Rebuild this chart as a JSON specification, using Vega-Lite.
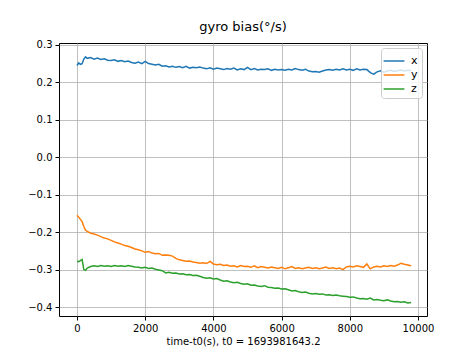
{
  "$schema": "https://vega.github.io/schema/vega-lite/v6.json",
  "autosize": {"type": "none"},
  "width": 368,
  "height": 273,
  "padding": {"left": 59, "top": 43, "right": 47, "bottom": 39},
  "background": "white",
  "config": {
    "font": "DejaVu Sans",
    "view": {"stroke": "#000", "strokeWidth": 1},
    "axis": {
      "domain": false,
      "grid": true,
      "gridColor": "#b0b0b0",
      "gridWidth": 0.8,
      "tickColor": "#000",
      "tickSize": 4,
      "labelColor": "#000",
      "labelFontSize": 10,
      "labelFont": "DejaVu Sans",
      "titleFont": "DejaVu Sans",
      "titleFontWeight": "normal",
      "titleFontSize": 10,
      "titleColor": "#000"
    }
  },
  "title": {"text": "gyro bias(°/s)", "fontSize": 13, "fontWeight": "normal", "font": "DejaVu Sans", "color": "#000", "offset": 6},
  "data": {"values": [
    {"t":0,"x":0.245,"y":-0.155,"z":-0.278},
    {"t":50,"x":0.252,"y":-0.160,"z":-0.279},
    {"t":100,"x":0.248,"y":-0.166,"z":-0.276},
    {"t":150,"x":0.250,"y":-0.172,"z":-0.273},
    {"t":200,"x":0.262,"y":-0.185,"z":-0.300},
    {"t":250,"x":0.268,"y":-0.195,"z":-0.302},
    {"t":300,"x":0.264,"y":-0.198,"z":-0.296},
    {"t":400,"x":0.266,"y":-0.203,"z":-0.292},
    {"t":500,"x":0.262,"y":-0.205,"z":-0.290},
    {"t":600,"x":0.265,"y":-0.208,"z":-0.292},
    {"t":700,"x":0.261,"y":-0.212,"z":-0.289},
    {"t":800,"x":0.263,"y":-0.216,"z":-0.291},
    {"t":900,"x":0.259,"y":-0.218,"z":-0.290},
    {"t":1000,"x":0.258,"y":-0.222,"z":-0.292},
    {"t":1100,"x":0.260,"y":-0.226,"z":-0.289},
    {"t":1200,"x":0.256,"y":-0.229,"z":-0.291},
    {"t":1300,"x":0.258,"y":-0.232,"z":-0.290},
    {"t":1400,"x":0.255,"y":-0.236,"z":-0.292},
    {"t":1500,"x":0.257,"y":-0.238,"z":-0.289},
    {"t":1600,"x":0.253,"y":-0.241,"z":-0.291},
    {"t":1700,"x":0.251,"y":-0.245,"z":-0.293},
    {"t":1800,"x":0.254,"y":-0.247,"z":-0.294},
    {"t":1900,"x":0.250,"y":-0.250,"z":-0.296},
    {"t":2000,"x":0.256,"y":-0.254,"z":-0.294},
    {"t":2100,"x":0.250,"y":-0.252,"z":-0.297},
    {"t":2200,"x":0.248,"y":-0.256,"z":-0.296},
    {"t":2300,"x":0.246,"y":-0.258,"z":-0.299},
    {"t":2400,"x":0.248,"y":-0.257,"z":-0.301},
    {"t":2500,"x":0.243,"y":-0.262,"z":-0.303},
    {"t":2600,"x":0.244,"y":-0.261,"z":-0.309},
    {"t":2700,"x":0.241,"y":-0.262,"z":-0.307},
    {"t":2800,"x":0.243,"y":-0.264,"z":-0.310},
    {"t":2900,"x":0.240,"y":-0.270,"z":-0.309},
    {"t":3000,"x":0.242,"y":-0.274,"z":-0.312},
    {"t":3100,"x":0.239,"y":-0.276,"z":-0.311},
    {"t":3200,"x":0.243,"y":-0.278,"z":-0.314},
    {"t":3300,"x":0.238,"y":-0.277,"z":-0.313},
    {"t":3400,"x":0.240,"y":-0.280,"z":-0.316},
    {"t":3500,"x":0.239,"y":-0.281,"z":-0.315},
    {"t":3600,"x":0.241,"y":-0.283,"z":-0.318},
    {"t":3700,"x":0.238,"y":-0.282,"z":-0.321},
    {"t":3800,"x":0.236,"y":-0.284,"z":-0.323},
    {"t":3900,"x":0.239,"y":-0.278,"z":-0.322},
    {"t":4000,"x":0.235,"y":-0.285,"z":-0.325},
    {"t":4100,"x":0.238,"y":-0.287,"z":-0.324},
    {"t":4200,"x":0.236,"y":-0.286,"z":-0.328},
    {"t":4300,"x":0.234,"y":-0.289,"z":-0.331},
    {"t":4400,"x":0.237,"y":-0.288,"z":-0.330},
    {"t":4500,"x":0.235,"y":-0.291,"z":-0.333},
    {"t":4600,"x":0.238,"y":-0.290,"z":-0.335},
    {"t":4700,"x":0.233,"y":-0.293,"z":-0.334},
    {"t":4800,"x":0.236,"y":-0.289,"z":-0.337},
    {"t":4900,"x":0.234,"y":-0.292,"z":-0.339},
    {"t":5000,"x":0.240,"y":-0.291,"z":-0.338},
    {"t":5100,"x":0.234,"y":-0.294,"z":-0.342},
    {"t":5200,"x":0.237,"y":-0.290,"z":-0.341},
    {"t":5300,"x":0.233,"y":-0.295,"z":-0.344},
    {"t":5400,"x":0.235,"y":-0.292,"z":-0.345},
    {"t":5500,"x":0.234,"y":-0.294,"z":-0.343},
    {"t":5600,"x":0.236,"y":-0.296,"z":-0.347},
    {"t":5700,"x":0.232,"y":-0.293,"z":-0.348},
    {"t":5800,"x":0.235,"y":-0.295,"z":-0.350},
    {"t":5900,"x":0.233,"y":-0.297,"z":-0.349},
    {"t":6000,"x":0.234,"y":-0.294,"z":-0.352},
    {"t":6100,"x":0.232,"y":-0.298,"z":-0.351},
    {"t":6200,"x":0.235,"y":-0.295,"z":-0.354},
    {"t":6300,"x":0.233,"y":-0.292,"z":-0.357},
    {"t":6400,"x":0.237,"y":-0.297,"z":-0.356},
    {"t":6500,"x":0.234,"y":-0.295,"z":-0.359},
    {"t":6600,"x":0.232,"y":-0.298,"z":-0.361},
    {"t":6700,"x":0.235,"y":-0.296,"z":-0.360},
    {"t":6800,"x":0.230,"y":-0.294,"z":-0.363},
    {"t":6900,"x":0.228,"y":-0.297,"z":-0.365},
    {"t":7000,"x":0.229,"y":-0.295,"z":-0.364},
    {"t":7100,"x":0.227,"y":-0.298,"z":-0.366},
    {"t":7200,"x":0.230,"y":-0.296,"z":-0.365},
    {"t":7300,"x":0.233,"y":-0.293,"z":-0.368},
    {"t":7400,"x":0.234,"y":-0.297,"z":-0.367},
    {"t":7500,"x":0.232,"y":-0.295,"z":-0.369},
    {"t":7600,"x":0.235,"y":-0.298,"z":-0.368},
    {"t":7700,"x":0.233,"y":-0.296,"z":-0.370},
    {"t":7800,"x":0.236,"y":-0.300,"z":-0.371},
    {"t":7900,"x":0.233,"y":-0.293,"z":-0.372},
    {"t":8000,"x":0.235,"y":-0.291,"z":-0.374},
    {"t":8100,"x":0.232,"y":-0.293,"z":-0.373},
    {"t":8200,"x":0.236,"y":-0.290,"z":-0.376},
    {"t":8300,"x":0.233,"y":-0.292,"z":-0.378},
    {"t":8400,"x":0.235,"y":-0.294,"z":-0.377},
    {"t":8500,"x":0.234,"y":-0.285,"z":-0.379},
    {"t":8600,"x":0.226,"y":-0.298,"z":-0.376},
    {"t":8700,"x":0.222,"y":-0.293,"z":-0.381},
    {"t":8800,"x":0.228,"y":-0.291,"z":-0.380},
    {"t":8900,"x":0.231,"y":-0.293,"z":-0.382},
    {"t":9000,"x":0.227,"y":-0.290,"z":-0.383},
    {"t":9100,"x":0.230,"y":-0.292,"z":-0.381},
    {"t":9200,"x":0.232,"y":-0.289,"z":-0.384},
    {"t":9300,"x":0.229,"y":-0.291,"z":-0.386},
    {"t":9400,"x":0.231,"y":-0.288,"z":-0.385},
    {"t":9500,"x":0.233,"y":-0.283,"z":-0.387},
    {"t":9600,"x":0.230,"y":-0.286,"z":-0.386},
    {"t":9700,"x":0.232,"y":-0.288,"z":-0.389},
    {"t":9800,"x":0.231,"y":-0.290,"z":-0.388}
  ]},
  "transform": [{"fold": ["x", "y", "z"], "as": ["series", "value"]}],
  "mark": {"type": "line", "strokeWidth": 1.5, "clip": true},
  "encoding": {
    "x": {
      "field": "t", "type": "quantitative",
      "title": "time-t0(s), t0 = 1693981643.2",
      "scale": {"domain": [-528, 10264], "nice": false, "zero": false},
      "axis": {"values": [0, 2000, 4000, 6000, 8000, 10000], "format": "d", "labelPadding": 3, "titlePadding": 3}
    },
    "y": {
      "field": "value", "type": "quantitative",
      "title": null,
      "scale": {"domain": [-0.424, 0.305], "nice": false, "zero": false},
      "axis": {"values": [-0.4, -0.3, -0.2, -0.1, 0, 0.1, 0.2, 0.3], "format": ".1f", "labelPadding": 3}
    },
    "color": {
      "field": "series", "type": "nominal",
      "scale": {"domain": ["x", "y", "z"], "range": ["#1f77b4", "#ff7f0e", "#2ca02c"]},
      "legend": {
        "title": null,
        "orient": "top-right",
        "offset": 5,
        "padding": 4,
        "fillColor": "rgba(255,255,255,0.8)",
        "strokeColor": "#cccccc",
        "cornerRadius": 3,
        "symbolType": "M-1.3,0H1.3",
        "symbolSize": 256,
        "symbolStrokeWidth": 1.5,
        "labelFontSize": 11,
        "labelFont": "DejaVu Sans",
        "labelColor": "#000",
        "labelOffset": 8,
        "rowPadding": 0
      }
    }
  }
}
